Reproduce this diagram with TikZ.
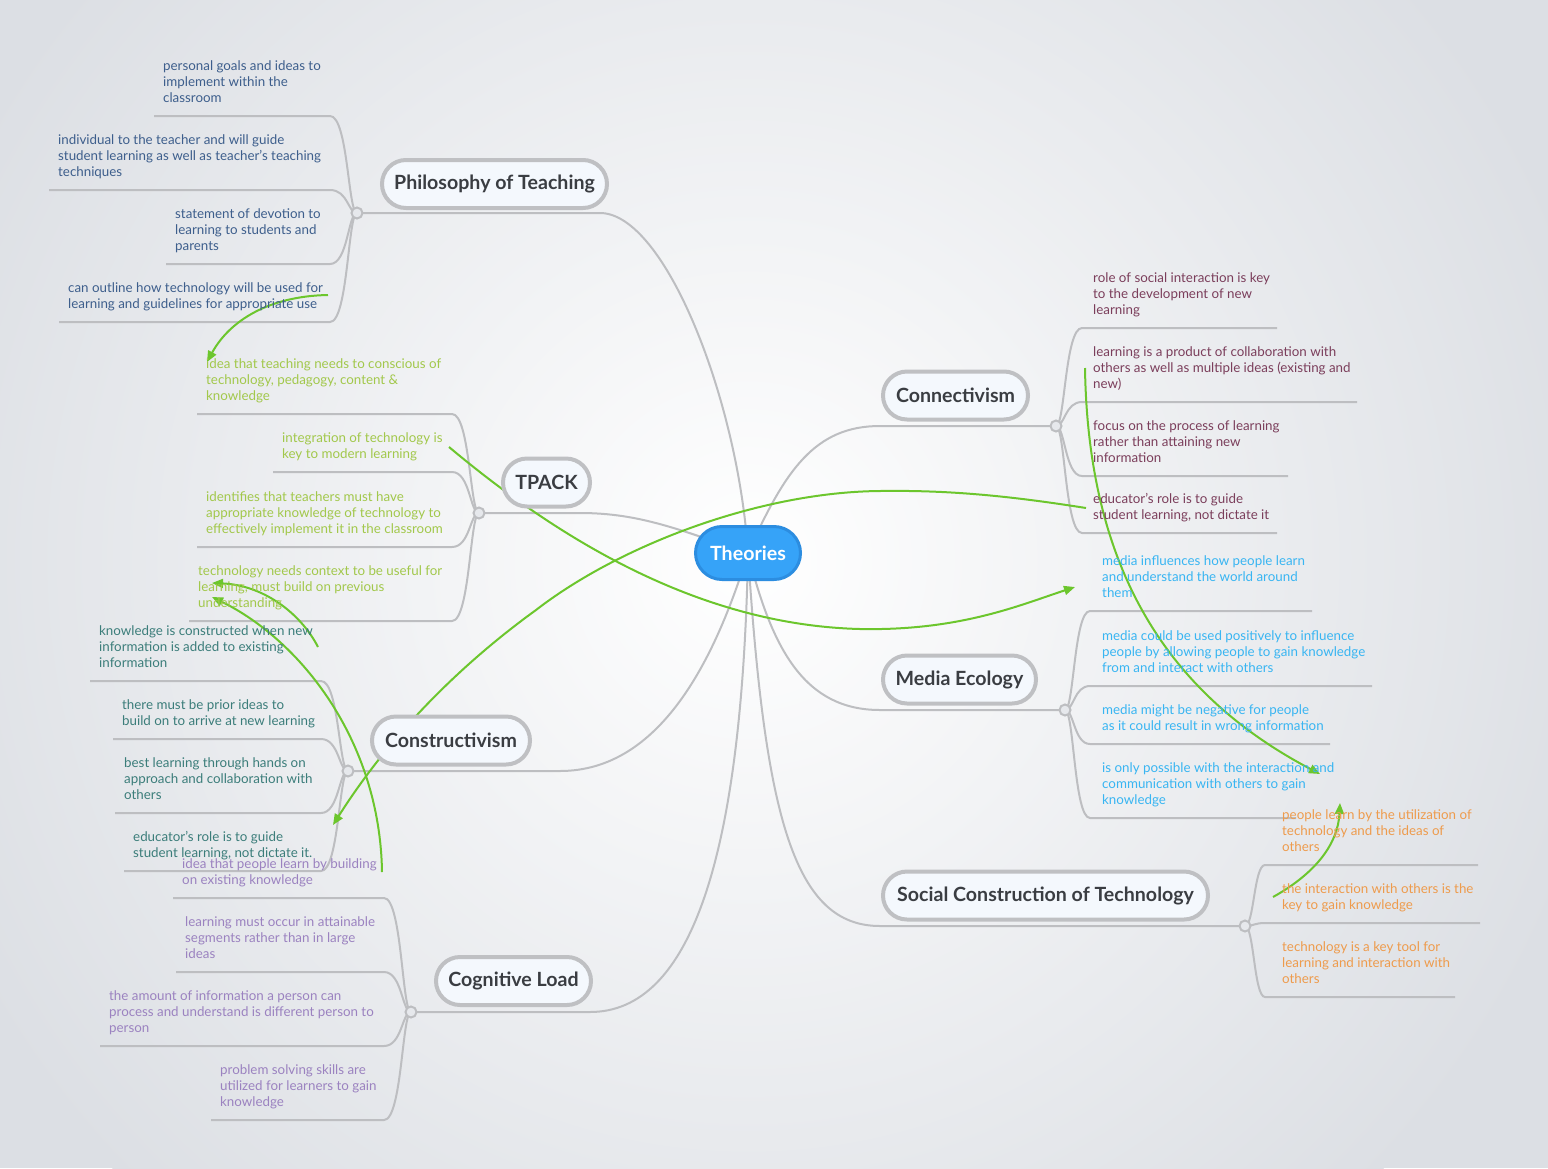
\documentclass[tikz,border=0pt]{standalone}
\usepackage{fontspec}
\setmainfont{Lato}
\usetikzlibrary{shapes.misc,arrows.meta}
\pgfdeclarelayer{bg}
\pgfdeclarelayer{lines}
\pgfsetlayers{bg,lines,main}
\definecolor{bgc}{HTML}{DCDFE4}
\definecolor{brc}{HTML}{BDBEC1}
\definecolor{grn}{HTML}{6CC62D}
\definecolor{nfill}{HTML}{F4F8FD}
\definecolor{nbord}{HTML}{BFC0C3}
\definecolor{hubfill}{HTML}{E6E8EC}
\definecolor{ttext}{HTML}{3A3D42}
\definecolor{cphil}{HTML}{3D5E8C}
\definecolor{ctpack}{HTML}{A2C84B}
\definecolor{ccons}{HTML}{3B7D7A}
\definecolor{ccog}{HTML}{9B82C0}
\definecolor{cconn}{HTML}{7B3E5B}
\definecolor{cmed}{HTML}{38B5F2}
\definecolor{csoc}{HTML}{EE9B4C}
\definecolor{cblue}{HTML}{36A3F8}
\definecolor{cbluebd}{HTML}{2C8DE0}
\newcommand\lstr{\rule{0pt}{13pt}}
\newcommand\Lleaf[6]{%
  \node[leaf, text=#2] (#1) at ({#3},{#4-26.5-16*(#5-1)}) {\lstr #6};
  \begin{pgfonlayer}{lines}
  \draw[branch] (\Jn) .. controls ({\Jx-9},{\Jy}) and ({\Jx-9},{#4}) .. ({\Jx-27},{#4}) -- ({#3-9},{#4});
  \end{pgfonlayer}}
\newcommand\Rleaf[7]{%
  \node[leaf, text=#2] (#1) at ({#3},{#4-26.5-16*(#5-1)}) {\lstr #7};
  \begin{pgfonlayer}{lines}
  \draw[branch] (\Jn) .. controls ({\Jx+9},{\Jy}) and ({\Jx+9},{#4}) .. ({\Jx+\Jd},{#4}) -- ({#6},{#4});
  \end{pgfonlayer}}
\tikzset{
  branch/.style={draw=brc, line width=2pt},
  rel/.style={draw=grn, line width=2pt, -{Triangle[length=11pt,width=9pt]}},
  topic/.style={rounded rectangle, draw=nbord, line width=4pt, fill=nfill, text=ttext,
    font=\fontsize{19.6}{23}\selectfont\bfseries, minimum height=48pt, inner xsep=0pt, inner ysep=0pt},
  centre/.style={rounded rectangle, draw=cbluebd, line width=3pt, fill=cblue, text=white,
    font=\fontsize{19.6}{23}\selectfont\bfseries, minimum height=53pt, minimum width=105pt, inner sep=0pt},
  hub/.style={circle, draw=brc, line width=2pt, fill=hubfill, minimum size=11pt, inner sep=0pt},
  leaf/.style={anchor=north west, inner sep=0pt, align=left, font=\fontsize{13.35}{16}\selectfont},
}
\begin{document}
\begin{tikzpicture}[x=1pt,y=-1pt]
\useasboundingbox (0,0) rectangle (1548,1168);
\begin{pgfonlayer}{bg}
\fill[bgc] (0,0) rectangle (1548,1168);
\begin{scope}
\clip (0,0) rectangle (1548,1168);
\shade[inner color=white, outer color=bgc] (748,560) circle (880);
\end{scope}
\end{pgfonlayer}

% nodes
\node[centre] (theories) at (748,553) {Theories};
\node[topic, minimum width=225pt] (phil) at (494.5,184) {Philosophy of Teaching};
\node[topic, minimum width=87pt] (tpack) at (546.5,482.5) {TPACK};
\node[topic, minimum width=158pt] (cons) at (451,740.5) {Constructivism};
\node[topic, minimum width=155pt] (cog) at (513.5,981) {Cognitive Load};
\node[topic, minimum width=145pt] (conn) at (955.5,395.5) {Connectivism};
\node[topic, minimum width=153pt] (med) at (959.5,679.5) {Media Ecology};
\node[topic, minimum width=325pt] (soc) at (1045.5,895.5) {Social Construction of Technology};

\coordinate (hphil) at (357,213);
\coordinate (htpack) at (479,513);
\coordinate (hcons) at (348,771);
\coordinate (hcog) at (411,1012);
\coordinate (hconn) at (1056,426);
\coordinate (hmed) at (1065,710);
\coordinate (hsoc) at (1245,926);

\begin{pgfonlayer}{lines}
\draw[branch] (theories.center) .. controls (738,400) and (665,213) .. (600,213) -- (hphil);
\draw[branch] (theories.center) .. controls (680,530) and (640,513) .. (580,513) -- (htpack);
\draw[branch] (theories.center) .. controls (715,660) and (660,771) .. (560,771) -- (hcons);
\draw[branch] (theories.center) .. controls (742,860) and (690,1012) .. (590,1012) -- (hcog);
\draw[branch] (theories.center) .. controls (785,470) and (815,426) .. (880,426) -- (hconn);
\draw[branch] (theories.center) .. controls (772,650) and (805,710) .. (880,710) -- (hmed);
\draw[branch] (theories.center) .. controls (765,820) and (795,926) .. (880,926) -- (hsoc);
\end{pgfonlayer}

% Philosophy leaves
\def\Jn{hphil}\def\Jx{357}\def\Jy{213}
\Lleaf{p1}{cphil}{163}{116}{3}{personal goals and ideas to\\implement within the\\classroom}
\Lleaf{p2}{cphil}{58}{190}{3}{individual to the teacher and will guide\\student learning as well as teacher's teaching\\techniques}
\Lleaf{p3}{cphil}{175}{264}{3}{statement of devotion to\\learning to students and\\parents}
\Lleaf{p4}{cphil}{68}{322}{2}{can outline how technology will be used for\\learning and guidelines for appropriate use}

% TPACK leaves
\def\Jn{htpack}\def\Jx{479}\def\Jy{513}
\Lleaf{t1}{ctpack}{206}{414}{3}{idea that teaching needs to conscious of\\technology, pedagogy, content \&\\knowledge}
\Lleaf{t2}{ctpack}{282}{472}{2}{integration of technology is\\key to modern learning}
\Lleaf{t3}{ctpack}{206}{547}{3}{identifies that teachers must have\\appropriate knowledge of technology to\\effectively implement it in the classroom}
\Lleaf{t4}{ctpack}{198}{621}{3}{technology needs context to be useful for\\learning, must build on previous\\understanding}

% Constructivism leaves
\def\Jn{hcons}\def\Jx{348}\def\Jy{771}
\Lleaf{c1}{ccons}{99}{681}{3}{knowledge is constructed when new\\information is added to existing\\information}
\Lleaf{c2}{ccons}{122}{739}{2}{there must be prior ideas to\\build on to arrive at new learning}
\Lleaf{c3}{ccons}{124}{813}{3}{best learning through hands on\\approach and collaboration with\\others}
\Lleaf{c4}{ccons}{133}{871}{2}{educator's role is to guide\\student learning, not dictate it.}

% Cognitive load leaves
\def\Jn{hcog}\def\Jx{411}\def\Jy{1012}
\Lleaf{g1}{ccog}{182}{898}{2}{idea that people learn by building\\on existing knowledge}
\Lleaf{g2}{ccog}{185}{972}{3}{learning must occur in attainable\\segments rather than in large\\ideas}
\Lleaf{g3}{ccog}{109}{1046}{3}{the amount of information a person can\\process and understand is different person to\\person}
\Lleaf{g4}{ccog}{220}{1120}{3}{problem solving skills are\\utilized for learners to gain\\knowledge}

% Connectivism leaves
\def\Jn{hconn}\def\Jx{1056}\def\Jy{426}\def\Jd{26}
\Rleaf{n1}{cconn}{1093}{328}{3}{1277}{role of social interaction is key\\to the development of new\\learning}
\Rleaf{n2}{cconn}{1093}{402}{3}{1357}{learning is a product of collaboration with\\others as well as multiple ideas (existing and\\new)}
\Rleaf{n3}{cconn}{1093}{476}{3}{1288}{focus on the process of learning\\rather than attaining new\\information}
\Rleaf{n4}{cconn}{1093}{533}{2}{1277}{educator's role is to guide\\student learning, not dictate it}

% Media ecology leaves
\def\Jn{hmed}\def\Jx{1065}\def\Jy{710}\def\Jd{25}
\Rleaf{m1}{cmed}{1102}{611}{3}{1312}{media influences how people learn\\and understand the world around\\them}
\Rleaf{m2}{cmed}{1102}{686}{3}{1372}{media could be used positively to influence\\people by allowing people to gain knowledge\\from and interact with others}
\Rleaf{m3}{cmed}{1102}{744}{2}{1330}{media might be negative for people\\as it could result in wrong information}
\Rleaf{m4}{cmed}{1102}{818}{3}{1296}{is only possible with the interaction and\\communication with others to gain\\knowledge}

% Social construction leaves
\def\Jn{hsoc}\def\Jx{1245}\def\Jy{926}\def\Jd{20}
\Rleaf{s1}{csoc}{1282}{865}{3}{1478}{people learn by the utilization of\\technology and the ideas of\\others}
\Rleaf{s2}{csoc}{1282}{923}{2}{1480}{the interaction with others is the\\key to gain knowledge}
\Rleaf{s3}{csoc}{1282}{997}{3}{1455}{technology is a key tool for\\learning and interaction with\\others}

% hubs
\node[hub] (hphilc) at (hphil) {};
\node[hub] (htpackc) at (htpack) {};
\node[hub] (hconsc) at (hcons) {};
\node[hub] (hcogc) at (hcog) {};
\node[hub] (hconnc) at (hconn) {};
\node[hub] (hmedc) at (hmed) {};
\node[hub] (hsocc) at (hsoc) {};

% relationships
\coordinate (r1a) at (328,295); \coordinate (r1b) at (207,362);
\coordinate (r2a) at (449,447); \coordinate (r2b) at (1075,587);
\coordinate (r3a) at (1086,508); \coordinate (r3b) at (333,825);
\coordinate (r4a) at (318,647); \coordinate (r4b) at (212,583);
\coordinate (r5a) at (382,872); \coordinate (r5b) at (212,597);
\coordinate (r6a) at (1085,368); \coordinate (r6b) at (1320,774);
\coordinate (r7a) at (1273,897); \coordinate (r7b) at (1340,803);
\begin{pgfonlayer}{lines}
\draw[rel] (r1a) .. controls (270,296) and (230,320) .. (r1b);
\draw[rel] (r2a) .. controls (560,540) and (700,625) .. (860,629) .. controls (960,631) and (1020,605) .. (r2b);
\draw[rel] (r3a) .. controls (1010,496) and (950,490) .. (880,491) .. controls (760,492) and (620,545) .. (536,610) .. controls (460,665) and (390,735) .. (r3b);
\draw[rel] (r4a) .. controls (300,612) and (262,585) .. (r4b);
\draw[rel] (r5a) .. controls (380,740) and (300,640) .. (r5b);
\draw[rel] (r6a) .. controls (1088,560) and (1160,690) .. (r6b);
\draw[rel] (r7a) .. controls (1318,872) and (1338,842) .. (r7b);
\end{pgfonlayer}
\end{tikzpicture}
\end{document}
